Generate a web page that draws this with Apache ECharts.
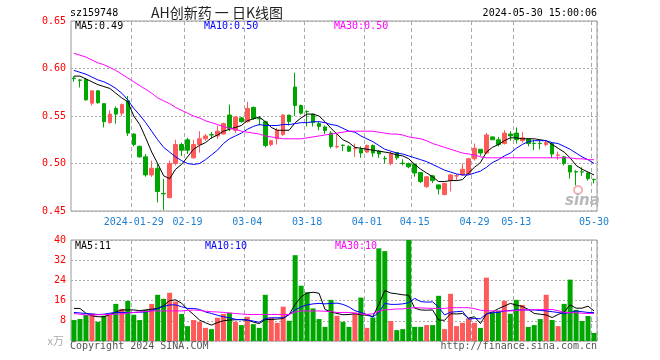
<!DOCTYPE html>
<html>
<head>
<meta charset="utf-8">
<script src="https://cdn.jsdelivr.net/npm/echarts/dist/echarts.min.js"></script>
<style>html,body{margin:0;padding:0;background:#fff;}#c{width:660px;height:360px;}</style>
</head>
<body>
<div id="c"></div>
<script>
// ---- data ----
const dates = [
'2024-01-15','2024-01-16','2024-01-17','2024-01-18','2024-01-19','2024-01-22','2024-01-23','2024-01-24','2024-01-25','2024-01-26',
'2024-01-29','2024-01-30','2024-01-31','2024-02-01','2024-02-02','2024-02-05','2024-02-06','2024-02-07','2024-02-08','2024-02-19',
'2024-02-20','2024-02-21','2024-02-22','2024-02-23','2024-02-26','2024-02-27','2024-02-28','2024-02-29','2024-03-01','2024-03-04',
'2024-03-05','2024-03-06','2024-03-07','2024-03-08','2024-03-11','2024-03-12','2024-03-13','2024-03-14','2024-03-15','2024-03-18',
'2024-03-19','2024-03-20','2024-03-21','2024-03-22','2024-03-25','2024-03-26','2024-03-27','2024-03-28','2024-03-29','2024-04-01',
'2024-04-02','2024-04-03','2024-04-08','2024-04-09','2024-04-10','2024-04-11','2024-04-12','2024-04-15','2024-04-16','2024-04-17',
'2024-04-18','2024-04-19','2024-04-22','2024-04-23','2024-04-24','2024-04-25','2024-04-26','2024-04-29','2024-04-30','2024-05-06',
'2024-05-07','2024-05-08','2024-05-09','2024-05-10','2024-05-13','2024-05-14','2024-05-15','2024-05-16','2024-05-17','2024-05-20',
'2024-05-21','2024-05-22','2024-05-23','2024-05-24','2024-05-27','2024-05-28','2024-05-29','2024-05-30'];
const labelDates = ['2024-01-29','2024-02-19','2024-03-04','2024-03-18','2024-04-01','2024-04-15','2024-04-29','2024-05-13','2024-05-30'];

const opens = [
0.590,0.588,0.5885,0.5635,0.5765,0.563,0.543,0.558,0.553,0.566,
0.531,0.518,0.507,0.488,0.495,0.4685,0.464,0.500,0.520,0.525,
0.506,0.520,0.526,0.5303,0.529,0.531,0.551,0.535,0.548,0.544,
0.559,0.5473,0.544,0.520,0.526,0.5305,0.551,0.5805,0.561,0.5548,
0.552,0.542,0.5385,0.532,0.5175,0.5193,0.518,0.5155,0.515,0.512,
0.519,0.513,0.5053,0.500,0.5115,0.5003,0.500,0.499,0.4905,0.4757,
0.487,0.4775,0.4674,0.482,0.4868,0.488,0.489,0.505,0.515,0.511,
0.528,0.525,0.521,0.531,0.532,0.524,0.526,0.5213,0.5213,0.520,
0.521,0.5085,0.507,0.498,0.4913,0.4913,0.490,0.4833];
const closes = [
0.5895,0.5875,0.567,0.5765,0.564,0.544,0.552,0.552,0.562,0.532,
0.520,0.507,0.488,0.495,0.4705,0.468,0.500,0.520,0.514,0.514,
0.520,0.526,0.529,0.530,0.534,0.542,0.537,0.549,0.544,0.558,
0.5475,0.547,0.519,0.524,0.535,0.551,0.544,0.561,0.553,0.5545,
0.543,0.539,0.5347,0.518,0.518,0.519,0.513,0.516,0.511,0.519,
0.511,0.510,0.505,0.5105,0.506,0.500,0.4965,0.490,0.481,0.486,
0.482,0.4733,0.479,0.488,0.4872,0.494,0.505,0.516,0.511,0.530,
0.525,0.520,0.532,0.529,0.525,0.527,0.521,0.521,0.521,0.522,
0.510,0.509,0.500,0.491,0.491,0.491,0.484,0.483];
const lows = [
0.586,0.580,0.566,0.561,0.563,0.538,0.542,0.542,0.550,0.529,
0.518,0.506,0.486,0.486,0.459,0.451,0.4635,0.498,0.508,0.510,
0.505,0.5115,0.524,0.526,0.526,0.5305,0.534,0.532,0.543,0.543,
0.546,0.540,0.517,0.518,0.520,0.529,0.540,0.550,0.5515,0.539,
0.539,0.535,0.531,0.516,0.516,0.513,0.512,0.507,0.506,0.511,
0.507,0.506,0.500,0.498,0.504,0.498,0.495,0.486,0.4795,0.4743,
0.4795,0.4675,0.4663,0.4705,0.482,0.487,0.488,0.503,0.508,0.510,
0.525,0.518,0.520,0.524,0.521,0.522,0.518,0.514,0.515,0.518,
0.506,0.504,0.498,0.484,0.477,0.487,0.482,0.479];
const highs = [
0.592,0.589,0.590,0.5765,0.577,0.5635,0.556,0.560,0.563,0.571,
0.532,0.519,0.510,0.503,0.500,0.484,0.503,0.525,0.522,0.527,
0.525,0.534,0.531,0.533,0.540,0.543,0.562,0.550,0.549,0.565,
0.560,0.550,0.545,0.525,0.5375,0.552,0.551,0.5955,0.562,0.556,
0.552,0.544,0.540,0.534,0.531,0.520,0.519,0.521,0.518,0.520,
0.520,0.514,0.508,0.512,0.512,0.5045,0.501,0.500,0.491,0.4865,
0.488,0.4775,0.480,0.489,0.489,0.500,0.506,0.521,0.515,0.532,
0.528,0.528,0.535,0.534,0.538,0.533,0.526,0.525,0.525,0.524,
0.522,0.5125,0.508,0.498,0.493,0.496,0.491,0.484];

const ma5 = [
0.592,0.592,0.589,0.586,0.583,0.581,0.579,0.574,0.569,0.565,
0.550,0.541,0.527,0.512,0.500,0.487,0.484,0.494,0.499,0.507,
0.515,0.519,0.522,0.527,0.530,0.534,0.536,0.538,0.540,0.545,
0.547,0.549,0.544,0.538,0.535,0.535,0.535,0.543,0.548,0.552,
0.552,0.550,0.544,0.537,0.531,0.525,0.522,0.517,0.516,0.515,
0.514,0.513,0.512,0.511,0.509,0.508,0.505,0.499,0.494,0.490,
0.486,0.481,0.481,0.482,0.482,0.483,0.490,0.496,0.501,0.512,
0.517,0.520,0.524,0.527,0.527,0.526,0.526,0.526,0.525,0.524,
0.520,0.516,0.512,0.506,0.498,0.494,0.491,0.488];
const ma10 = [
0.598,0.596,0.594,0.591,0.588,0.586,0.583,0.579,0.574,0.567,
0.558,0.551,0.543,0.534,0.525,0.517,0.512,0.507,0.503,0.500,
0.499,0.500,0.504,0.509,0.514,0.521,0.526,0.529,0.532,0.536,
0.539,0.541,0.540,0.540,0.540,0.541,0.541,0.542,0.543,0.543,
0.544,0.544,0.543,0.541,0.540,0.537,0.534,0.533,0.529,0.526,
0.523,0.519,0.515,0.513,0.511,0.510,0.508,0.506,0.504,0.502,
0.499,0.496,0.493,0.491,0.489,0.488,0.488,0.490,0.492,0.496,
0.501,0.504,0.508,0.511,0.516,0.520,0.523,0.524,0.524,0.524,
0.522,0.521,0.518,0.515,0.511,0.507,0.504,0.500];
const ma30 = [
0.616,0.614,0.612,0.609,0.606,0.604,0.601,0.598,0.594,0.590,
0.586,0.582,0.578,0.574,0.569,0.566,0.563,0.559,0.556,0.553,
0.550,0.548,0.545,0.543,0.541,0.539,0.537,0.536,0.534,0.533,
0.532,0.531,0.529,0.528,0.527,0.526,0.526,0.526,0.526,0.527,
0.528,0.529,0.530,0.531,0.532,0.533,0.534,0.534,0.534,0.534,
0.534,0.533,0.532,0.531,0.531,0.530,0.528,0.527,0.526,0.524,
0.521,0.519,0.517,0.515,0.513,0.511,0.510,0.509,0.507,0.506,
0.506,0.506,0.506,0.506,0.506,0.506,0.506,0.506,0.506,0.506,
0.506,0.506,0.506,0.506,0.505,0.505,0.504,0.504];

const volumes = [
8.3,8.7,10.3,10.9,7.6,10,10.5,14.7,12.7,15.9,
10.4,8.3,12.3,14.7,18.3,16.7,19.1,15.6,10.7,5.9,
8.3,7.6,5.2,4.7,9.2,10.7,11.2,7.6,6.3,9.6,
6.7,5.2,18.3,9.2,7.2,13.6,8,34,21.9,19.3,
12.9,8.7,5.6,16.3,10,7.6,5.6,11.3,17.2,5.2,
9.3,36.7,35.6,7.9,4.3,4.7,40,5.6,5.6,6.3,
6.3,17.9,4.7,18.7,5.9,7.2,8.9,7.2,5.2,25.1,
11.3,11.9,15.9,10.8,16.3,14.3,5.6,6.3,8.7,18.3,
8.3,5.9,14.7,24.3,12.3,7.9,9.9,3.2];
const vma5 = [
12.9,12.9,11,10,9.6,9.6,10.5,11.5,12.3,12.3,
12.3,12,12.3,12.6,12.9,14,16,16.3,15,12.5,
10.5,8.3,7.2,6.3,7.3,8,8.3,8.4,8.5,8.3,
7.5,6.9,8.5,8.5,8.7,8.9,10.5,14.5,17.5,19,
19.3,18.9,12.5,11.5,10.9,10.4,10.5,10.8,10.4,10.2,
9.7,14.5,20,19,18.7,18.3,18.1,13,12.3,12.2,
12.3,8.3,8.2,10.8,10.7,10.9,9.1,9.6,6.9,10.7,
11.5,12.8,13.8,14.9,14.2,13.7,12.5,10.9,10.6,10.3,
9.3,10.5,11.5,14.3,13,13,13.8,11.9];
const vma10 = [
11.3,11.1,10.9,10.7,10.5,10.6,11,11.3,11.3,11.3,
11.3,11.4,11.5,12,12.9,13.7,14.3,14.3,13.6,12.9,
12.9,12.5,11.5,10.9,10.2,9.6,9.2,8.6,8.4,8.3,
7.9,7.4,8.9,9.2,9.2,9.2,10.5,12.3,13.5,14.3,
14.7,14.9,14.7,14.9,15,14.5,13.5,12,11.3,10.5,
9.5,11.3,14.9,14.5,14.5,14.7,15.2,16.9,15.6,15.4,
15.5,13.4,10.3,11.4,11.6,11.8,8.7,8.9,8.8,10.7,
11.2,11.3,11.9,12.1,12.3,12.3,12.3,12.3,12.1,11.9,
11.6,11.3,10.9,11.3,11.9,11.6,11.3,11.3];
const vma30 = [
10.9,10.6,10.3,10.3,10.4,10.5,10.5,10.6,10.8,11.1,
11.3,11.5,11.7,11.9,11.9,11.9,11.9,11.9,11.9,12.1,
12.3,12.1,11.8,11.6,11.5,11.3,11.1,10.9,10.7,10.5,
10.5,10.5,10.5,10.5,10.5,10.5,10.5,11.5,11.9,11.9,
11.9,11.9,11.8,11.6,11.3,11.3,11.3,11,10.7,10.5,
10.8,11.8,12.3,12.5,12.7,12.7,13,13.2,13.1,13,
12.9,12.9,12.9,13.2,13.2,13.2,13.2,12.8,12.2,11.9,
11.9,11.9,11.9,11.9,12.1,12.3,12.3,12.4,12.5,12.5,
12.5,12,11.3,11.2,11.2,11,10.9,10.9];

// ---- chart ----
const RED = '#ff5a5a', GREEN = '#00a600';
const MONO = '"DejaVu Sans Mono", "Liberation Mono", monospace';
const candles = dates.map((d, i) => [opens[i], closes[i], lows[i], highs[i]]);
const isLabel = (i, v) => labelDates.indexOf(v) >= 0;

const chart = echarts.init(document.getElementById('c'), null, {renderer: 'canvas', width: 660, height: 360});

function txt(text, x, y, fill, font, align) {
  return {type: 'text', x: x, y: y, silent: true, z: 100,
    style: {text: text, fill: fill, font: font || ('10px ' + MONO),
      align: align || 'left', textAlign: align || 'left',
      verticalAlign: 'middle', textVerticalAlign: 'middle'}};
}

const xCommon = {
  type: 'category', data: dates, boundaryGap: true,
  axisLine: {show: false}, axisTick: {show: false},
  splitLine: {show: true, interval: isLabel, lineStyle: {color: '#aaaaaa', width: 1, type: [4, 3]}}
};

const option = {
  animation: false,
  backgroundColor: '#ffffff',
  grid: [
    {left: 71, right: 63, top: 21, height: 190, show: true, borderColor: '#999999', borderWidth: 1},
    {left: 71, right: 63, top: 240, height: 101, show: true, borderColor: '#999999', borderWidth: 1}
  ],
  xAxis: [
    Object.assign({}, xCommon, {gridIndex: 0,
      axisLabel: {show: true, interval: isLabel, color: '#1e7fd0', fontFamily: MONO, fontSize: 10, margin: 6,
        formatter: v => v === labelDates[0] ? v : v.slice(5)}}),
    Object.assign({}, xCommon, {gridIndex: 1, axisLabel: {show: false}})
  ],
  yAxis: [
    {type: 'value', gridIndex: 0, min: 0.45, max: 0.65, interval: 0.05, scale: true,
      axisLine: {show: false}, axisTick: {show: false},
      axisLabel: {color: '#ff0000', fontFamily: MONO, fontSize: 10, margin: 5, formatter: v => v.toFixed(2)},
      splitLine: {show: true, lineStyle: {color: '#aaaaaa', width: 1, type: [2, 2]}}},
    {type: 'value', gridIndex: 1, min: 0, max: 40, interval: 8,
      axisLine: {show: false}, axisTick: {show: false},
      axisLabel: {color: '#ff0000', fontFamily: MONO, fontSize: 10, margin: 5, formatter: v => v === 0 ? '' : String(v)},
      splitLine: {show: true, lineStyle: {color: '#aaaaaa', width: 1, type: [2, 2]}}}
  ],
  series: [
    {type: 'candlestick', xAxisIndex: 0, yAxisIndex: 0, data: candles, barWidth: 4,
      itemStyle: {color: RED, color0: GREEN, borderColor: RED, borderColor0: GREEN, borderWidth: 1}},
    {type: 'line', xAxisIndex: 0, yAxisIndex: 0, data: ma5, symbol: 'none', z: 3, lineStyle: {color: '#000000', width: 1}},
    {type: 'line', xAxisIndex: 0, yAxisIndex: 0, data: ma10, symbol: 'none', z: 3, lineStyle: {color: '#0000ff', width: 1}},
    {type: 'line', xAxisIndex: 0, yAxisIndex: 0, data: ma30, symbol: 'none', z: 3, lineStyle: {color: '#ff00ff', width: 1}},
    {type: 'bar', xAxisIndex: 1, yAxisIndex: 1, data: volumes, barWidth: 5,
      itemStyle: {color: p => closes[p.dataIndex] > opens[p.dataIndex] ? RED : GREEN}},
    {type: 'line', xAxisIndex: 1, yAxisIndex: 1, data: vma5, symbol: 'none', z: 3, lineStyle: {color: '#000000', width: 1}},
    {type: 'line', xAxisIndex: 1, yAxisIndex: 1, data: vma10, symbol: 'none', z: 3, lineStyle: {color: '#0000ff', width: 1}},
    {type: 'line', xAxisIndex: 1, yAxisIndex: 1, data: vma30, symbol: 'none', z: 3, lineStyle: {color: '#ff00ff', width: 1}}
  ],
  graphic: [
    txt('sz159748', 70, 13.5, '#000000'),
    txt('AH创新药 一 日K线图', 151, 12.5, '#222222', '14px "Noto Sans CJK SC"'),
    txt('2024-05-30 15:00:06', 597, 13.5, '#000000', null, 'right'),
    txt('MA5:0.49', 75, 26.5, '#000000'),
    txt('MA10:0.50', 204, 26.5, '#0000ff'),
    txt('MA30:0.50', 334, 26.5, '#ff00ff'),
    txt('MA5:11', 75, 246.5, '#000000'),
    txt('MA10:10', 205, 246.5, '#0000ff'),
    txt('MA30:10', 335, 246.5, '#ff00ff'),
    txt('x万', 64, 341, '#aaaaaa', '11px "Noto Sans CJK SC"', 'right'),
    txt('Copyright 2024 SINA.COM', 70, 346.5, '#555555'),
    txt('http://finance.sina.com.cn', 597, 346.5, '#555555', null, 'right'),
    {type: 'circle', shape: {cx: 578, cy: 190, r: 4}, silent: true, z: 1,
      style: {fill: 'none', stroke: '#f4b0b0', lineWidth: 2}},
    txt('sina', 565, 201, '#b8b8b8', 'italic bold 15px "DejaVu Sans"')
  ]
};
chart.setOption(option);
</script>
</body>
</html>
